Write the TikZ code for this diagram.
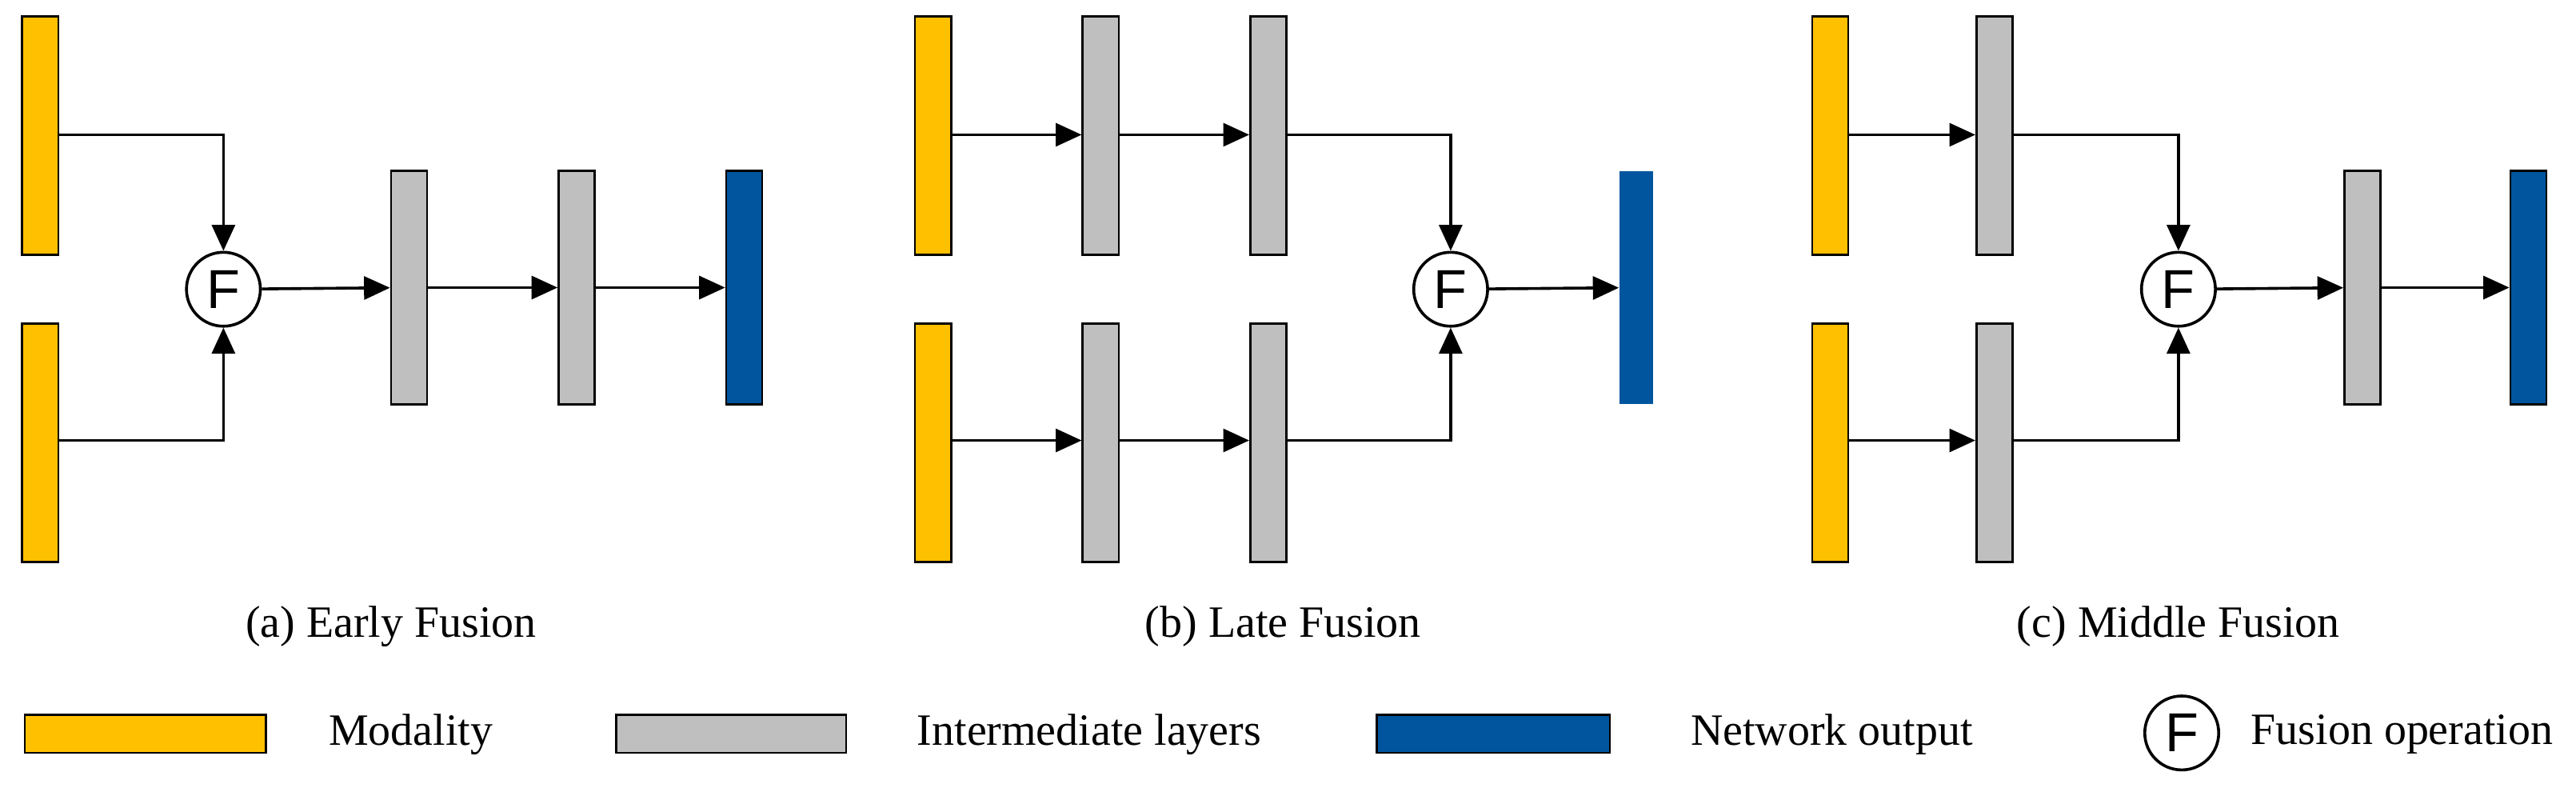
\documentclass[tikz,border=0pt]{standalone}
\usepackage{fontspec}
\setmainfont{Liberation Serif}
\newfontfamily\fsans{Liberation Sans}
\usetikzlibrary{arrows.meta}
\definecolor{ylw}{HTML}{FFC000}
\definecolor{gry}{HTML}{BFBFBF}
\definecolor{blu}{HTML}{00559E}
\begin{document}
\begin{tikzpicture}[x=0.02cm,y=-0.02cm,
 bar/.style={draw=black,line width=0.7pt,minimum width=0.44cm,inner sep=0pt},
 tall/.style={bar,minimum height=2.9cm},
 mid/.style={bar,minimum height=2.84cm},
 Y/.style={fill=ylw},G/.style={fill=gry},B/.style={fill=blu},
 fu/.style={circle,draw,line width=1pt,minimum size=0.9cm,inner sep=0pt,font=\fsans\fontsize{19}{19}\selectfont},
 ar/.style={-{Triangle[length=9pt,width=8pt]},line width=1pt},
 lab/.style={font=\fontsize{15.5}{18}\selectfont}]
\useasboundingbox (0,0) rectangle (1568,484);
% panel a
\node[tall,Y] (a1) at (24.5,82.5) {};
\node[tall,Y] (a2) at (24.5,269.5) {};
\node[fu] (aF) at (136,176) {F};
\node[mid,G] (ag1) at (249,175) {};
\node[mid,G] (ag2) at (351,175) {};
\node[mid,B] (ab) at (453,175) {};
\draw[ar] (a1.east |- 0,82) -| (aF.north);
\draw[ar] (a2.east |- 0,268) -| (aF.south);
\draw[ar] (aF) -- (ag1);
\draw[ar] (ag1) -- (ag2);
\draw[ar] (ag2) -- (ab);
\node[lab] (ca) at (238,381) {(a) Early Fusion};
% panel b
\node[tall,Y] (b1) at (568,82.5) {};
\node[tall,Y] (b2) at (568,269.5) {};
\node[tall,G] (bg1) at (670,82.5) {};
\node[tall,G] (bg2) at (772,82.5) {};
\node[tall,G] (bg3) at (670,269.5) {};
\node[tall,G] (bg4) at (772,269.5) {};
\node[fu] (bF) at (883,176) {F};
\node[mid,B,draw=none,minimum width=0.4cm] (bb) at (996,175) {};
\draw[ar] (b1.east |- 0,82) -- (bg1.west |- 0,82);
\draw[ar] (bg1.east |- 0,82) -- (bg2.west |- 0,82);
\draw[ar] (b2.east |- 0,268) -- (bg3.west |- 0,268);
\draw[ar] (bg3.east |- 0,268) -- (bg4.west |- 0,268);
\draw[ar] (bg2.east |- 0,82) -| (bF.north);
\draw[ar] (bg4.east |- 0,268) -| (bF.south);
\draw[ar] (bF) -- (bb);
\node[lab] (cb) at (781,381) {(b) Late Fusion};
% panel c
\node[tall,Y] (c1) at (1114,82.5) {};
\node[tall,Y] (c2) at (1114,269.5) {};
\node[tall,G] (cg1) at (1214,82.5) {};
\node[tall,G] (cg2) at (1214,269.5) {};
\node[fu] (cF) at (1326,176) {F};
\node[mid,G] (cg3) at (1438,175) {};
\node[mid,B] (cb1) at (1539,175) {};
\draw[ar] (c1.east |- 0,82) -- (cg1.west |- 0,82);
\draw[ar] (c2.east |- 0,268) -- (cg2.west |- 0,268);
\draw[ar] (cg1.east |- 0,82) -| (cF.north);
\draw[ar] (cg2.east |- 0,268) -| (cF.south);
\draw[ar] (cF) -- (cg3);
\draw[ar] (cg3) -- (cb1);
\node[lab] (cc) at (1326,381) {(c) Middle Fusion};
% legend
\node[bar,Y,minimum width=2.94cm,minimum height=0.46cm] (l1) at (88.5,446.5) {};
\node[lab] (t1) at (250,447) {Modality};
\node[bar,G,minimum width=2.8cm,minimum height=0.46cm] (l2) at (445,446.5) {};
\node[lab] (t2) at (663,447) {Intermediate layers};
\node[bar,B,minimum width=2.84cm,minimum height=0.46cm] (l3) at (909,446.5) {};
\node[lab] (t3) at (1115,447) {Network output};
\node[fu] (l4) at (1328,446) {F};
\node[lab,anchor=west] (t4) at (1364,447) {Fusion operation};
\end{tikzpicture}
\end{document}
